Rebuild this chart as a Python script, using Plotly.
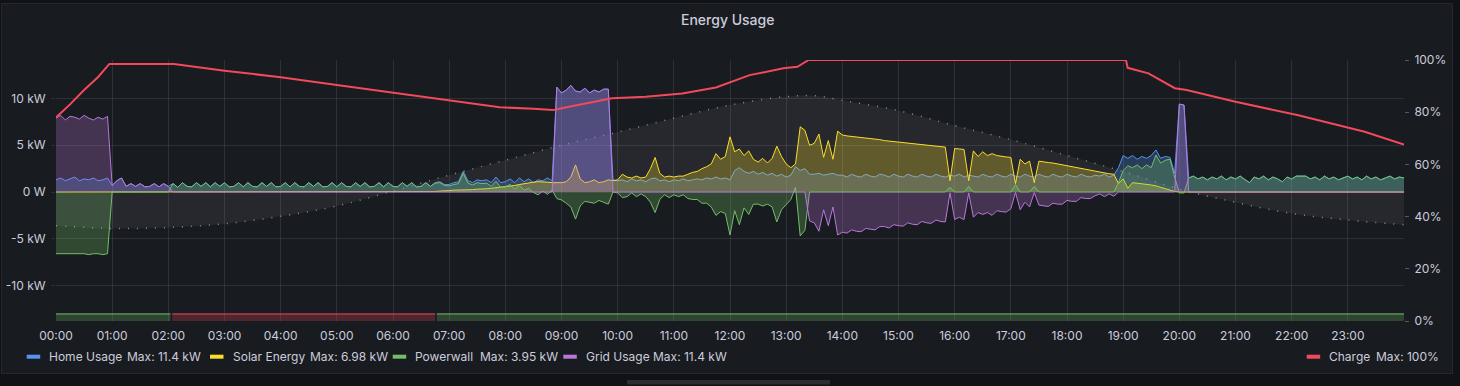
import plotly.graph_objects as go

# ---------------- data ----------------
STEP_MIN = 5
times_h = [i * STEP_MIN / 60 for i in range(289)]  # 00:00 .. 24:00 every 5 min

home_kw = [
    1.3, 1.5, 1.2, 1.4, 1.6, 1.2, 1.4, 1.3, 1.5, 1.2, 1.3, 1.5,
    0.7, 1.2, 1.5, 0.6, 0.9, 0.6, 0.9, 0.55, 0.6, 0.9, 0.55, 0.9,
    0.6, 0.9, 0.5, 1.0, 0.6, 0.55, 1.0, 0.6, 1.0, 0.55, 1.0, 0.6,
    1.0, 0.55, 0.6, 1.0, 0.55, 1.0, 0.6, 0.55, 1.0, 0.6, 1.0, 0.55,
    0.6, 1.0, 0.55, 1.0, 0.6, 0.55, 1.0, 0.6, 1.0, 0.55, 0.6, 1.0,
    0.55, 1.0, 0.6, 0.55, 1.0, 0.6, 1.0, 0.55, 0.6, 1.0, 0.55, 1.0,
    0.6, 0.55, 1.0, 0.6, 1.0, 0.55, 0.6, 1.0, 0.6, 1.0, 1.1, 0.8,
    0.8, 1.0, 1.1, 2.2, 1.2, 1.0, 1.3, 1.2, 1.3, 1.0, 1.6, 1.0,
    1.1, 1.4, 1.0, 1.5, 1.1, 1.4, 1.0, 1.3, 1.2, 1.5, 1.2, 11.2,
    10.6, 10.9, 11.4, 10.8, 10.7, 11.1, 10.6, 10.9, 10.7, 11.0, 11.0, 1.3,
    1.2, 1.3, 1.1, 1.4, 1.2, 1.3, 1.1, 1.4, 1.5, 1.2, 1.3, 1.1,
    1.3, 1.2, 1.4, 1.2, 1.3, 1.4, 1.3, 1.5, 1.4, 1.6, 1.4, 1.5,
    1.3, 2.3, 2.6, 2.2, 2.0, 2.2, 1.9, 2.1, 1.8, 2.0, 1.7, 1.9,
    1.6, 1.8, 2.7, 2.3, 2.5, 1.9, 1.9, 2.0, 1.8, 1.9, 2.0, 1.8,
    1.8, 1.6, 1.9, 1.7, 1.6, 1.9, 1.7, 1.6, 1.9, 1.8, 1.6, 1.9,
    1.7, 1.6, 1.9, 1.7, 1.6, 1.9, 1.7, 1.6, 1.9, 1.7, 1.6, 1.8,
    1.7, 1.9, 1.6, 1.8, 1.7, 1.6, 1.9, 1.7, 1.6, 1.9, 1.7, 1.6,
    1.9, 1.7, 1.6, 1.9, 1.7, 1.6, 1.9, 1.7, 1.6, 1.9, 1.7, 1.6,
    1.9, 1.7, 1.6, 1.9, 1.7, 1.6, 1.8, 1.7, 1.9, 1.6, 1.8, 2.6,
    3.9, 3.6, 3.9, 3.5, 3.8, 3.6, 3.9, 4.5, 3.6, 3.8, 3.7, 2.0,
    9.4, 9.3, 1.5, 1.7, 1.4, 1.6, 1.3, 1.6, 1.4, 1.7, 1.3, 1.6,
    1.4, 1.7, 1.3, 1.0, 1.6, 1.4, 1.7, 1.3, 1.6, 1.4, 1.1, 1.6,
    1.4, 1.7, 1.7, 1.7, 1.4, 1.6, 1.3, 1.7, 1.4, 1.6, 1.3, 1.5,
    1.7, 1.4, 1.6, 1.3, 1.7, 1.4, 1.6, 1.3, 1.5, 1.7, 1.4, 1.6,
    1.5,
]

solar_kw = [
    0, 0, 0, 0, 0, 0, 0, 0, 0, 0, 0, 0,
    0, 0, 0, 0, 0, 0, 0, 0, 0, 0, 0, 0,
    0, 0, 0, 0, 0, 0, 0, 0, 0, 0, 0, 0,
    0, 0, 0, 0, 0, 0, 0, 0, 0, 0, 0, 0,
    0, 0, 0, 0, 0, 0, 0, 0, 0, 0, 0, 0,
    0, 0, 0, 0, 0, 0, 0, 0, 0, 0, 0, 0,
    0, 0, 0, 0, 0, 0, 0, 0, 0, 0.05, 0.1, 0.1,
    0.15, 0.2, 0.2, 0.2, 0.25, 0.25, 0.3, 0.3, 0.35, 0.4, 0.45, 0.5,
    0.55, 0.6, 0.7, 0.8, 0.9, 1.0, 1.05, 1.1, 1.1, 1.05, 1.0, 1.0,
    1.0, 1.1, 1.6, 2.9, 1.4, 1.0, 1.1, 1.3, 1.0, 1.1, 1.3, 1.2,
    1.3, 1.9, 1.6, 1.5, 1.7, 1.5, 1.6, 2.5, 3.7, 2.0, 1.6, 1.7,
    1.6, 1.7, 1.7, 1.9, 2.1, 2.2, 2.5, 2.7, 3.0, 4.1, 3.5, 3.8,
    5.9, 4.3, 4.6, 3.9, 4.4, 3.5, 3.2, 3.6, 3.1, 3.6, 4.9, 3.8,
    3.0, 2.6, 3.0, 6.98, 6.6, 5.0, 5.2, 6.2, 3.7, 5.5, 3.5, 6.5,
    6.1, 6.0, 5.95, 5.9, 5.85, 5.8, 5.7, 5.65, 5.6, 5.5, 5.45, 5.4,
    5.3, 5.25, 5.2, 5.15, 5.1, 5.05, 5.0, 4.95, 4.9, 4.85, 4.8, 1.2,
    4.65, 4.6, 4.55, 1.2, 4.4, 3.8, 4.3, 3.9, 4.1, 3.9, 3.8, 3.75,
    3.7, 0.9, 3.5, 3.0, 3.3, 1.0, 3.3, 3.2, 3.15, 3.1, 3.0, 2.9,
    2.8, 2.7, 2.6, 2.5, 2.4, 2.3, 2.2, 2.1, 2.0, 1.95, 1.9, 0.9,
    1.4, 0.4, 1.0, 0.95, 0.9, 0.85, 0.75, 0.65, 0.5, 0.35, 0.15, 0.05,
    0, 0, 0, 0, 0, 0, 0, 0, 0, 0, 0, 0,
    0, 0, 0, 0, 0, 0, 0, 0, 0, 0, 0, 0,
    0, 0, 0, 0, 0, 0, 0, 0, 0, 0, 0, 0,
    0, 0, 0, 0, 0, 0, 0, 0, 0, 0, 0, 0,
    0,
]

powerwall_kw = [
    -6.6, -6.6, -6.6, -6.6, -6.6, -6.6, -6.6, -6.7, -6.6, -6.6, -6.7, -6.6,
    0, 0, 0, 0, 0, 0, 0, 0, 0, 0, 0, 0,
    0, 0.9, 0.5, 1.0, 0.6, 0.55, 1.0, 0.6, 1.0, 0.55, 1.0, 0.6,
    1.0, 0.55, 0.6, 1.0, 0.55, 1.0, 0.6, 0.55, 1.0, 0.6, 1.0, 0.55,
    0.6, 1.0, 0.55, 1.0, 0.6, 0.55, 1.0, 0.6, 1.0, 0.55, 0.6, 1.0,
    0.55, 1.0, 0.6, 0.55, 1.0, 0.6, 1.0, 0.55, 0.6, 1.0, 0.55, 1.0,
    0.6, 0.55, 1.0, 0.6, 1.0, 0.55, 0.6, 1.0, 0.6, 0.95, 1.0, 0.7,
    0.65, 0.8, 0.9, 2.0, 0.95, 0.75, 1.0, 0.9, 0.95, 0.6, 1.15, 0.5,
    0.55, 0.8, 0.3, 0.7, 0.2, 0.4, -0.05, -0.3, 0.1, -0.25, 0.2, -0.7,
    -0.85, -1.2, -1.6, -2.9, -1.5, -1.0, -1.1, -1.2, -0.9, -1.1, -1.3, 0.0,
    -0.1, -0.6, -0.5, -0.1, -0.5, -0.2, -0.5, -1.1, -2.2, -0.8, -0.3, -0.6,
    -0.3, -0.5, -0.3, -0.7, -0.8, -0.8, -1.2, -1.2, -1.6, -2.5, -2.1, -2.3,
    -4.6, -2.0, -3.5, -1.7, -2.4, -1.3, -1.3, -1.5, -1.3, -1.6, -3.2, -1.9,
    -1.4, -0.8, 0.5, -4.7, -4.1, 0, 0, 0, 0, 0, 0, 0,
    0, 0, 0, 0, 0, 0, 0, 0, 0, 0, 0, 0,
    0, 0, 0, 0, 0, 0, 0, 0, 0, 0, 0, 0.5,
    0, 0, 0, 0.6, 0, 0, 0, 0, 0, 0, 0, 0,
    0, 0.8, 0, 0, 0, 0.6, 0, 0, 0, 0, 0, 0,
    0, 0, 0, 0, 0, 0, 0, 0, 0, 0, 0, 1.0,
    2.3, 2.8, 2.6, 2.9, 2.5, 2.9, 2.6, 3.95, 3.1, 3.4, 3.5, 1.6,
    -0.1, -0.1, 1.5, 1.7, 1.4, 1.6, 1.3, 1.6, 1.4, 1.7, 1.3, 1.6,
    1.4, 1.7, 1.3, 1.0, 1.6, 1.4, 1.7, 1.3, 1.6, 1.4, 1.1, 1.6,
    1.4, 1.7, 1.7, 1.7, 1.4, 1.6, 1.3, 1.7, 1.4, 1.6, 1.3, 1.5,
    1.7, 1.4, 1.6, 1.3, 1.7, 1.4, 1.6, 1.3, 1.5, 1.7, 1.4, 1.6,
    1.5,
]

grid_kw = [
    7.9, 8.2, 7.7, 8.1, 8.0, 7.8, 8.2, 7.9, 7.7, 8.0, 7.8, 8.1,
    0.7, 1.2, 1.5, 0.6, 0.9, 0.6, 0.9, 0.55, 0.6, 0.9, 0.55, 0.9,
    0.6, 0, 0, 0, 0, 0, 0, 0, 0, 0, 0, 0,
    0, 0, 0, 0, 0, 0, 0, 0, 0, 0, 0, 0,
    0, 0, 0, 0, 0, 0, 0, 0, 0, 0, 0, 0,
    0, 0, 0, 0, 0, 0, 0, 0, 0, 0, 0, 0,
    0, 0, 0, 0, 0, 0, 0, 0, 0, 0, 0, 0,
    0, 0, 0, 0, 0, 0, 0, 0, 0, 0, 0, 0,
    0, 0, 0, 0, 0, 0, 0, 0, 0, 0, 0, 11.2,
    10.6, 10.9, 11.4, 10.8, 10.7, 11.1, 10.6, 10.9, 10.7, 11.0, 11.0, 0,
    0, 0, 0, 0, 0, 0, 0, 0, 0, 0, 0, 0,
    0, 0, 0, 0, 0, 0, 0, 0, 0, 0, 0, 0,
    0, 0, 0, 0, 0, 0, 0, 0, 0, 0, 0, 0,
    0, 0, 0, 0, 0, -3.1, -3.3, -4.2, -1.9, -3.6, -1.6, -4.6,
    -4.3, -4.4, -4.05, -4.2, -4.25, -3.9, -4.0, -4.05, -3.7, -3.7, -3.85, -3.5,
    -3.6, -3.65, -3.3, -3.45, -3.5, -3.15, -3.3, -3.35, -3.0, -3.15, -3.2, -0.1,
    -2.95, -2.7, -2.95, -0.1, -2.7, -2.2, -2.4, -2.2, -2.5, -2.0, -2.1, -2.15,
    -1.8, -0.05, -1.9, -1.1, -1.6, -0.05, -1.4, -1.5, -1.55, -1.2, -1.3, -1.3,
    -0.9, -1.0, -1.0, -0.6, -0.7, -0.7, -0.4, -0.2, -0.5, -0.2, -0.45, 0,
    0, 0, 0, 0, 0, 0, 0, 0, 0, 0, 0, 0,
    9.4, 9.3, 0, 0, 0, 0, 0, 0, 0, 0, 0, 0,
    0, 0, 0, 0, 0, 0, 0, 0, 0, 0, 0, 0,
    0, 0, 0, 0, 0, 0, 0, 0, 0, 0, 0, 0,
    0, 0, 0, 0, 0, 0, 0, 0, 0, 0, 0, 0,
    0,
]

charge_hours = [0, 0.25, 0.5, 0.75, 0.95, 2.1, 3, 4, 5, 6, 7, 7.9, 8.5, 8.85, 9.0, 9.5,
                9.9, 10.5, 11.15, 11.75, 12.05, 12.35, 12.95, 13.2, 13.4, 19.05, 19.08,
                19.45, 19.92, 20.13, 21, 22.1, 23.3, 24]
charge_pct = [78.0, 83.0, 88.5, 93.5, 98.5, 98.5, 95.9, 93.4, 90.4, 87.5, 84.7, 81.9, 81.3,
              80.8, 81.5, 83.5, 85.3, 85.9, 87.2, 89.5, 92.0, 94.2, 96.8, 97.4, 100, 100,
              97.0, 94.9, 89.2, 88.5, 84.0, 78.9, 72.5, 67.6]

sun_hours = [0, 1, 2, 3, 4, 5, 6, 7, 8, 9, 10, 11, 12, 13, 13.5, 14, 15, 16, 17, 18,
             19, 20, 21, 22, 23, 24]
sun_kw = [-3.6, -3.9, -3.8, -3.4, -2.6, -1.5, 0.1, 1.8, 3.4, 5.0, 6.4, 7.9, 9.3, 10.2,
          10.3, 9.8, 8.7, 7.1, 5.6, 3.9, 2.2, 0.3, -1.1, -2.3, -3.0, -3.5]

state_start_h = [0.0, 2.07, 6.78]
state_end_h = [2.04, 6.75, 24.0]
state_kind = ["normal", "peak", "normal"]
state_level_pct = 2.7

hour_labels = [f"{h:02d}:00" for h in range(24)]
left_ticks = [-10, -5, 0, 5, 10]
left_tick_text = ["-10 kW", "-5 kW", "0 W", "5 kW", "10 kW"]
right_ticks = [0, 20, 40, 60, 80, 100]
right_tick_text = [f"{v}%" for v in right_ticks]

series_names = ["Home Usage", "Solar Energy", "Powerwall", "Grid Usage"]
series_values = [home_kw, solar_kw, powerwall_kw, grid_kw]
series_colors = ["#5794F2", "#FADE2A", "#73BF69", "#B877D9"]
charge_color = "#F2495C"

# ---------------- layout helpers ----------------
W, H = 1460, 386
ML, MR, MT, MB = 56, 56, 60, 65
PW_ = W - ML - MR
PH_ = H - MT - MB


def px(x):
    return (x - ML) / PW_


def py(y):
    return (H - MB - y) / PH_


def rgba(hexc, a):
    hexc = hexc.lstrip("#")
    r, g, b = int(hexc[0:2], 16), int(hexc[2:4], 16), int(hexc[4:6], 16)
    return f"rgba({r},{g},{b},{a})"


TEXT = "#ccccdc"
GRID = "rgba(204,204,220,0.12)"
FONT = "Inter"

fig = go.Figure()

# sun curve (background)
fig.add_trace(go.Scatter(
    x=sun_hours, y=sun_kw, mode="lines",
    line=dict(color="rgba(210,210,220,0.6)", width=1.5, dash="1px,8px", shape="spline"),
    fill="tozeroy", fillcolor="rgba(204,204,220,0.08)",
    hoverinfo="skip", showlegend=False))

for name, vals, col in zip(series_names, series_values, series_colors):
    fig.add_trace(go.Scatter(
        x=times_h, y=vals, name=name, mode="lines",
        line=dict(color=col, width=1), fill="tozeroy", fillcolor=rgba(col, 0.28),
        showlegend=False))

# state band at the bottom
state_colors = {"normal": "#73BF69", "peak": "#F2495C"}
for s, e, k in zip(state_start_h, state_end_h, state_kind):
    c = state_colors[k]
    fig.add_trace(go.Scatter(
        x=[s, e], y=[state_level_pct, state_level_pct], yaxis="y2", mode="lines",
        line=dict(color=c, width=1), fill="tozeroy", fillcolor=rgba(c, 0.25),
        hoverinfo="skip", showlegend=False))

fig.add_trace(go.Scatter(
    x=charge_hours, y=charge_pct, name="Charge", yaxis="y2", mode="lines",
    line=dict(color=charge_color, width=2), showlegend=False))

# ---------------- shapes / annotations ----------------
shapes = []
annotations = []

# panel
shapes.append(dict(type="rect", xref="paper", yref="paper", layer="below",
                   x0=px(1.5), x1=px(1452.5), y0=py(373.5), y1=py(3.5),
                   fillcolor="#181b1f", line=dict(color="rgba(204,204,220,0.10)", width=1)))
# scrollbar
shapes.append(dict(type="rect", xref="paper", yref="paper", layer="below",
                   x0=px(627), x1=px(830), y0=py(384.5), y1=py(380),
                   fillcolor="#2a2d31", line=dict(width=0)))

annotations.append(dict(text="Energy Usage", xref="paper", yref="paper",
                        x=px(727.5), y=py(19.3), xanchor="center", yanchor="middle",
                        showarrow=False,
                        font=dict(family=FONT, size=14, color=TEXT, weight=500)))

# legend
legend_y = 356.7
left_items = [
    (series_names[i], series_colors[i], f"Max: {max(series_values[i]):.3g} kW")
    for i in range(4)
]
left_items.append(("Charge", charge_color, f"Max: {max(charge_pct):.0f}%"))
dash_x = [26.7, 210.0, 392.7, 563.3, 1306.7]
name_x = [48.3, 232.3, 414.3, 585.0, 1328.3]
max_x = [126.7, 309.0, 479.0, 652.7, 1375.0]
for (nm, col, mx), dx, nx, mxx in zip(left_items, dash_x, name_x, max_x):
    shapes.append(dict(type="line", xref="paper", yref="paper",
                       x0=px(dx), x1=px(dx + 13.5), y0=py(legend_y), y1=py(legend_y),
                       line=dict(color=col, width=4)))
    annotations.append(dict(text=nm, xref="paper", yref="paper", x=px(nx - 1.5),
                            y=py(legend_y), xanchor="left", yanchor="middle",
                            showarrow=False, font=dict(family=FONT, size=12, color=TEXT)))
    annotations.append(dict(text=mx, xref="paper", yref="paper", x=px(mxx - 1.5),
                            y=py(legend_y), xanchor="left", yanchor="middle",
                            showarrow=False, font=dict(family=FONT, size=12, color=TEXT)))

fig.update_layout(
    width=W, height=H,
    margin=dict(l=ML, r=MR, t=MT, b=MB, pad=0, autoexpand=False),
    paper_bgcolor="#111217", plot_bgcolor="rgba(0,0,0,0)",
    font=dict(family=FONT, size=12, color=TEXT),
    showlegend=False,
    hovermode=False,
    xaxis=dict(range=[0, 24], tickvals=list(range(24)), ticktext=hour_labels,
               showgrid=True, gridcolor=GRID, gridwidth=1, zeroline=False,
               showline=False, ticks="", ticklabelstandoff=6, automargin=False,
               tickfont=dict(family=FONT, size=12, color=TEXT), fixedrange=True),
    yaxis=dict(range=[-13.8, 14.12], tickvals=left_ticks, ticktext=left_tick_text,
               showgrid=True, gridcolor=GRID, gridwidth=1, zeroline=False,
               showline=False, ticks="outside", ticklen=4, tickcolor=GRID,
               ticklabelstandoff=3, automargin=False,
               tickfont=dict(family=FONT, size=12, color=TEXT), fixedrange=True),
    yaxis2=dict(range=[0, 100], overlaying="y", side="right", tickvals=right_ticks,
                ticktext=right_tick_text, showgrid=False, zeroline=False,
                showline=False, ticks="outside", ticklen=4, automargin=False,
                tickcolor="rgba(204,204,220,0.35)", ticklabelstandoff=3,
                tickfont=dict(family=FONT, size=12, color=TEXT), fixedrange=True),
    shapes=shapes,
    annotations=annotations,
)

fig.write_html("out.html", config={"displayModeBar": False},
               post_script="document.body.style.margin='0px';"
                           "document.body.style.background='#111217';")
